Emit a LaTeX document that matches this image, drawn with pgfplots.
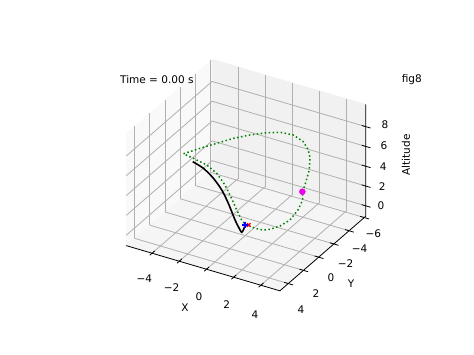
\documentclass[border=0pt]{standalone}
\usepackage{pgfplots}
\pgfplotsset{compat=1.18}
\usepackage{fontspec}
\setmainfont{DejaVu Sans}
\definecolor{gridc}{RGB}{176,176,176}
\definecolor{paneX}{RGB}{249,249,249}
\definecolor{paneY}{RGB}{241,241,241}
\definecolor{paneZ}{RGB}{245,245,245}
\definecolor{mplgreen}{RGB}{0,128,0}
\definecolor{mplmag}{RGB}{235,0,235}
\begin{document}
\begin{tikzpicture}[font=\fontsize{10.5}{12}\selectfont]
\begin{axis}[
  set layers,
  anchor=origin, at={(0pt,0pt)},
  x={(13.6pt,-4.0pt)}, y={(7.6pt,6.6pt)}, z={(0pt,9.9pt)},
  y dir=reverse,
  xmin=-5.9, xmax=5.4, ymin=-6.2, ymax=5.1, zmin=-1.05, zmax=10.25,
  xtick={-4,-2,0,2,4}, ytick={-6,-4,-2,0,2,4}, ztick={0,2,4,6,8},
  xticklabels={}, yticklabels={}, zticklabels={},
  ticklabel style={opacity=0},
  major tick length=0pt,
  grid=major,
  major grid style={draw=gridc, line width=0.8pt},
  axis line style={draw=none},
  clip=false,
]
% panes
\addplot3[on layer=axis background, draw=paneX, fill=paneX, mark=none, forget plot]
  coordinates {(-5.9,-6.2,-1.05) (-5.9,5.1,-1.05) (-5.9,5.1,10.25) (-5.9,-6.2,10.25) (-5.9,-6.2,-1.05)};
\addplot3[on layer=axis background, draw=paneY, fill=paneY, mark=none, forget plot]
  coordinates {(-5.9,-6.2,-1.05) (5.4,-6.2,-1.05) (5.4,-6.2,10.25) (-5.9,-6.2,10.25) (-5.9,-6.2,-1.05)};
\addplot3[on layer=axis background, draw=paneZ, fill=paneZ, mark=none, forget plot]
  coordinates {(-5.9,-6.2,-1.05) (5.4,-6.2,-1.05) (5.4,5.1,-1.05) (-5.9,5.1,-1.05) (-5.9,-6.2,-1.05)};
% axis lines
\draw[line width=0.8pt] (axis cs:-5.9,5.1,-1.05) -- (axis cs:5.4,5.1,-1.05) -- (axis cs:5.4,-6.2,-1.05) -- (axis cs:5.4,-6.2,10.25);
\pgfplotsinvokeforeach{-4,-2,0,2,4}{\draw[line width=0.8pt] (axis cs:#1,4.75,-1.05) -- (axis cs:#1,5.4,-1.05);}
\pgfplotsinvokeforeach{-6,-4,-2,0,2,4}{\draw[line width=0.8pt] (axis cs:5.1,#1,-1.05) -- (axis cs:5.75,#1,-1.05);}
\pgfplotsinvokeforeach{0,2,4,6,8}{\draw[line width=0.8pt] (axis cs:5.1,-6.2,#1) -- (axis cs:5.75,-6.2,#1);}
% tick labels
\node at (axis cs:-4,5.1,-1.05) [xshift=-7.8pt,yshift=-25.1pt] {−4};
\node at (axis cs:-2,5.1,-1.05) [xshift=-7.6pt,yshift=-26.5pt] {−2};
\node at (axis cs:0,5.1,-1.05) [xshift=-7.5pt,yshift=-27.8pt] {0};
\node at (axis cs:2,5.1,-1.05) [xshift=-7pt,yshift=-27.8pt] {2};
\node at (axis cs:4,5.1,-1.05) [xshift=-6pt,yshift=-29.8pt] {4};
\node at (axis cs:5.4,-6,-1.05) [xshift=9pt,yshift=-15.7pt] {−6};
\node at (axis cs:5.4,-4,-1.05) [xshift=10.5pt,yshift=-17.5pt] {−4};
\node at (axis cs:5.4,-2,-1.05) [xshift=11.8pt,yshift=-19.3pt] {−2};
\node at (axis cs:5.4,0,-1.05) [xshift=12.2pt,yshift=-20.8pt] {0};
\node at (axis cs:5.4,2,-1.05) [xshift=12.4pt,yshift=-23.3pt] {2};
\node at (axis cs:5.4,4,-1.05) [xshift=12.7pt,yshift=-25.7pt] {4};
\node at (axis cs:5.4,-6.2,0) [xshift=15.2pt,yshift=0.15pt] {0};
\node at (axis cs:5.4,-6.2,2) [xshift=16.5pt,yshift=-0.65pt] {2};
\node at (axis cs:5.4,-6.2,4) [xshift=17.5pt,yshift=-0.45pt] {4};
\node at (axis cs:5.4,-6.2,6) [xshift=18.2pt,yshift=0.45pt] {6};
\node at (axis cs:5.4,-6.2,8) [xshift=19.2pt,yshift=1.65pt] {8};
% reference path
\addplot3[mplgreen, line width=1.5pt, dash pattern=on 1.5pt off 2.5pt, mark=none] coordinates {
(0.56,0.5,0.48) (1.17,0.8,0.69) (1.87,1.0,0.93) (2.44,1.1,1.30) (3.12,1.0,1.84)
(3.74,0.8,2.57) (4.16,0.5,3.55) (4.28,0.1,4.34) (4.12,-0.2,4.91) (4.13,-0.6,5.66)
(4.15,-1.0,6.58) (3.93,-1.5,7.37) (3.52,-2.0,7.70) (2.87,-2.5,7.93) (1.86,-3.0,7.86)
(0.71,-3.3,7.47) (-0.32,-3.4,6.94) (-1.49,-3.3,6.31) (-2.55,-3.0,5.74) (-3.55,-2.6,5.10)
(-4.55,-2.2,4.46) (-5.49,-1.7,3.86) (-4.43,-1.1,4.23) (-3.22,-0.7,4.31) (-2.32,-0.4,4.04)
(-1.54,-0.1,3.37) (-0.94,0.1,2.38) (-0.46,0.3,1.55) (-0.04,0.4,0.77) (0.39,0.5,0.41)
(0.56,0.5,0.48)};
% flown path
\addplot3[black, line width=1.6pt, smooth, mark=none] coordinates {
(-4.42,-1.0,3.96) (-3.53,-0.8,3.79) (-2.68,-0.6,3.26) (-1.95,-0.4,2.50) (-1.30,-0.1,1.62)
(-0.58,0.3,0.49) (0.04,0.75,0.03) (0.26,0.92,0.0) (0.2,0.6,0.0) (0,0,0)};
\addplot3[red, only marks, mark=x, mark size=2.5pt, line width=1.2pt] coordinates {(0.54,0.5,0.57)};
\addplot3[blue, only marks, mark=+, mark size=3pt, line width=1.5pt] coordinates {(0,0,0)};
\addplot3[only marks, mark=*, mark size=3pt, draw=mplmag, fill=mplmag] coordinates {(4.09,-0.2,4.90)};
\end{axis}
\node[anchor=west, inner sep=0pt] at (-125.22pt,145.17pt) {Time = 0.00 s};
\node[anchor=east, inner sep=0pt] at (176.78pt,145.17pt) {fig8};
\node at (-60.22pt,-82.53pt) {X};
\node at (105.78pt,-58.83pt) {Y};
\node[rotate=90] at (160.78pt,70.17pt) {Altitude};
\pgfresetboundingbox
\path[use as bounding box] (-245.22pt,-129.83pt) rectangle (228.78pt,225.17pt);
\end{tikzpicture}
\end{document}
